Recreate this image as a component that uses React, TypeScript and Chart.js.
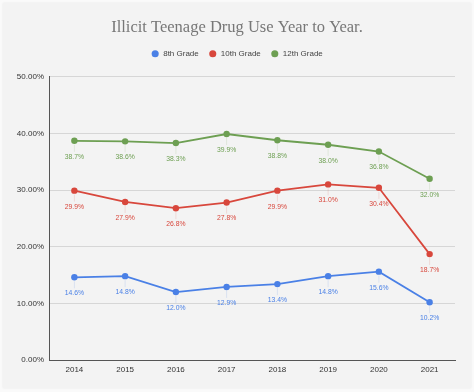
import React, { useEffect, useRef } from "react";
import { Chart, registerables } from "chart.js";

Chart.register(...registerables);

const years = ["2014", "2015", "2016", "2017", "2018", "2019", "2020", "2021"];
const seriesNames = ["8th Grade", "10th Grade", "12th Grade"];
const grade8 = [14.6, 14.8, 12.0, 12.9, 13.4, 14.8, 15.6, 10.2];
const grade10 = [29.9, 27.9, 26.8, 27.8, 29.9, 31.0, 30.4, 18.7];
const grade12 = [38.7, 38.6, 38.3, 39.9, 38.8, 38.0, 36.8, 32.0];
const seriesColors = ["#4a80e6", "#d8473c", "#6d9f52"];
const yMin = 0;
const yMax = 50;
const yStep = 10;
const titleText = "Illicit Teenage Drug Use Year to Year.";

function hexToRgba(hex: string, a: number) {
  const n = parseInt(hex.slice(1), 16);
  return `rgba(${(n >> 16) & 255},${(n >> 8) & 255},${n & 255},${a})`;
}

const pointLabels = {
  id: "pointLabels",
  afterDatasetsDraw(chart: any) {
    const ctx = chart.ctx;
    ctx.save();
    chart.data.datasets.forEach((ds: any, i: number) => {
      const meta = chart.getDatasetMeta(i);
      if (meta.hidden) return;
      meta.data.forEach((pt: any, j: number) => {
        const v = ds.data[j];
        ctx.strokeStyle = hexToRgba(ds.borderColor, 0.15);
        ctx.lineWidth = 1;
        ctx.beginPath();
        ctx.moveTo(pt.x, pt.y + 4);
        ctx.lineTo(pt.x, pt.y + 11);
        ctx.stroke();
        ctx.fillStyle = ds.borderColor;
        ctx.font = "6.8px 'Liberation Sans', Arial, sans-serif";
        ctx.textAlign = "center";
        ctx.textBaseline = "middle";
        ctx.fillText(v.toFixed(1) + "%", pt.x, pt.y + 16);
      });
    });
    ctx.restore();
  },
};

const legendGap = {
  id: "legendGap",
  beforeLayout(chart: any) {
    const lg = chart.legend;
    if (lg && !lg.__patched) {
      const orig = lg.fit;
      lg.fit = function () {
        orig.call(this);
        this.height += 9;
      };
      lg.__patched = true;
    }
  },
};

export default function App() {
  const ref = useRef<HTMLCanvasElement>(null);
  useEffect(() => {
    const series = [grade8, grade10, grade12];
    const chart = new Chart(ref.current as HTMLCanvasElement, {
      type: "line",
      data: {
        labels: years,
        datasets: series.map((d, i) => ({
          label: seriesNames[i],
          data: d,
          borderColor: seriesColors[i],
          backgroundColor: seriesColors[i],
          pointBackgroundColor: seriesColors[i],
          pointBorderColor: seriesColors[i],
          pointRadius: 3.2,
          pointBorderWidth: 0,
          borderWidth: 1.8,
          tension: 0,
          yAxisID: "y",
        })),
      },
      options: {
        responsive: false,
        animation: false,
        layout: { padding: { left: 0, right: 0, top: 0, bottom: 8 } },
        plugins: {
          tooltip: { enabled: false },
          title: {
            display: true,
            text: titleText,
            color: "#777777",
            font: { family: "'Liberation Serif', serif", size: 16.5, weight: "normal" },
            padding: { top: 18, bottom: 2 },
          },
          legend: {
            display: true,
            position: "top",
            labels: {
              usePointStyle: true,
              pointStyle: "circle",
              boxWidth: 10,
              boxHeight: 5,
              padding: 10,
              color: "#444444",
              font: { family: "'Liberation Sans', Arial, sans-serif", size: 8 },
            },
          },
        },
        scales: {
          x: {
            type: "category",
            offset: true,
            grid: { display: false, drawTicks: false },
            border: { display: true, color: "#555555", width: 1 },
            ticks: {
              color: "#333333",
              padding: 5,
              font: { family: "'Liberation Sans', Arial, sans-serif", size: 8 },
            },
            afterFit: (s: any) => {
              s.height = 24;
            },
          },
          y: {
            position: "left",
            min: yMin,
            max: yMax,
            grid: { color: "#d6d6d6", lineWidth: 1, drawTicks: false },
            border: { display: true, color: "#555555", width: 1 },
            ticks: {
              stepSize: yStep,
              color: "#333333",
              padding: 5,
              font: { family: "'Liberation Sans', Arial, sans-serif", size: 8 },
              callback: (v: any) => Number(v).toFixed(2) + "%",
            },
            afterFit: (s: any) => {
              s.width = 49;
            },
          },
          yRight: {
            position: "right",
            display: true,
            min: yMin,
            max: yMax,
            grid: { display: false, drawTicks: false },
            border: { display: false },
            ticks: { display: false },
            afterFit: (s: any) => {
              s.width = 19;
            },
          },
        },
      },
      plugins: [pointLabels, legendGap],
    } as any);
    return () => chart.destroy();
  }, []);

  return (
    <div style={{ position: "absolute", left: 0, top: 0, width: 474, height: 392, background: "#fafafa" }}>
      <div
        style={{
          position: "absolute",
          left: 3,
          top: 3,
          width: 468,
          height: 385,
          background: "#f3f3f3",
          boxShadow: "0 0 2px rgba(0,0,0,0.08)",
        }}
      />
      <canvas ref={ref} width={474} height={392} style={{ position: "absolute", left: 0, top: 0 }} />
    </div>
  );
}
